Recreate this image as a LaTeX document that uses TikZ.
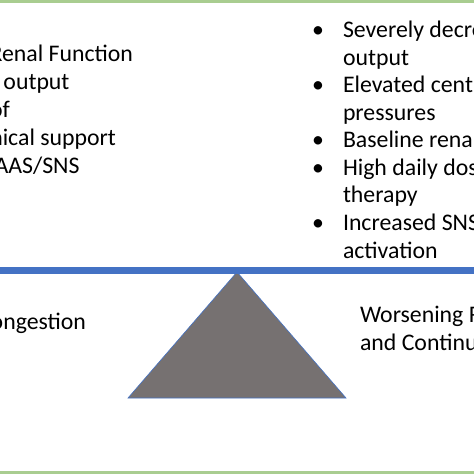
\documentclass[tikz,border=0pt]{standalone}
\usepackage{fontspec}
\setmainfont{Carlito}
\definecolor{barblue}{HTML}{4472C4}
\definecolor{edgegreen}{HTML}{A9CD90}
\definecolor{fulcrum}{HTML}{767171}
\tikzset{
  txt/.style={inner sep=0pt, outer sep=0pt, font=\fontsize{23.8}{28}\selectfont, text=black},
}
\begin{document}
\begin{tikzpicture}[x=1pt,y=-1pt]
\useasboundingbox (0,0) rectangle (474,474);
\clip (0,0) rectangle (474,474);
\fill[white] (0,0) rectangle (474,474);
% green edge lines
\fill[edgegreen] (0,0) rectangle (474,2.5);
\fill[edgegreen] (0,471) rectangle (474,474);
% fulcrum
\draw[barblue, line width=0.6pt, fill=fulcrum] (237,272) -- (346,398) -- (128,398) -- cycle;
% lever bar
\fill[barblue] (0,266.5) rectangle (474,273.5);
% left text
\node[txt, anchor=base east] (l1) at (133,61) {Renal Function};
\node[txt, anchor=base east] (l2) at (69.5,89) {c output};
\node[txt, anchor=base east] (l3) at (10,117) {of};
\node[txt, anchor=base east] (l4) at (116,145) {nical support};
\node[txt, anchor=base east] (l5) at (79.5,173) {RAAS/SNS};
% right bullets
\foreach \y/\n in {37/b1,92/b2,147/b3,175/b4,230/b5}
  \node[txt, anchor=base] (\n) at (318,\y) {•};
\node[txt, anchor=base west] (r1) at (343,37) {Severely decre};
\node[txt, anchor=base west] (r2) at (343,65) {output};
\node[txt, anchor=base west] (r3) at (343,92) {Elevated centr};
\node[txt, anchor=base west] (r4) at (343,120) {pressures};
\node[txt, anchor=base west] (r5) at (343,147) {Baseline renal};
\node[txt, anchor=base west] (r6) at (343,175) {High daily dose};
\node[txt, anchor=base west] (r7) at (343,202) {therapy};
\node[txt, anchor=base west] (r8) at (343,230) {Increased SNS};
\node[txt, anchor=base west] (r9) at (343,258) {activation};
% lower texts
\node[txt, anchor=base east] (c1) at (86,329) {ongestion};
\node[txt, anchor=base west] (w1) at (360,322) {Worsening R};
\node[txt, anchor=base west] (w2) at (360,350) {and Continu};
\end{tikzpicture}
\end{document}
